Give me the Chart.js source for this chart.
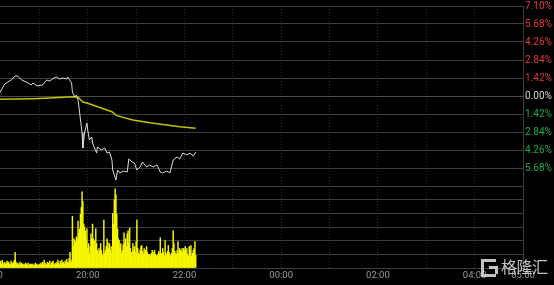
<!DOCTYPE html>
<html>
<head>
<meta charset="utf-8">
<script src="https://cdn.jsdelivr.net/npm/chart.js@4"></script>
<style>
  html, body { margin: 0; padding: 0; background: #000; width: 554px; height: 285px; overflow: hidden; }
  body { position: relative; }
  canvas { position: absolute; }
  #priceChart { left: -9px; top: 0; }
  #volumeChart { left: -9px; top: 180px; }
  .wm-g { position: absolute; left: 481px; top: 259px; width: 12px; height: 12px;
          border: 3px solid rgba(220,220,220,0.88); border-right: none; }
  .wm-g2 { position: absolute; left: 489px; top: 266px; width: 6px; height: 5px;
           border-top: 3px solid rgba(220,220,220,0.88); border-right: 3px solid rgba(220,220,220,0.88); }
  .wm-text { position: absolute; left: 501px; top: 256px; font-family: "Noto Sans CJK SC", sans-serif;
             font-size: 16px; letter-spacing: -0.5px; color: rgba(220,220,220,0.88); line-height: 20px; }
</style>
</head>
<body>
<canvas id="priceChart" width="563" height="190"></canvas>
<canvas id="volumeChart" width="563" height="105"></canvas>
<div class="wm-g"></div><div class="wm-g2"></div>
<div class="wm-text">格隆汇</div>
<script>
// =============================
// Data
// =============================
const sessionStart = "18:00";

// price change vs previous close, in %
const priceTimes = ["18:00","18:06","18:11","18:17","18:25","18:30","18:33","18:38","18:44","18:50",
  "18:52","18:57","19:04","19:09","19:13","19:16","19:21","19:25","19:29","19:34",
  "19:35","19:40","19:41","19:44","19:46","19:48","19:50","19:53","19:54","19:56",
  "19:59","20:00","20:02","20:05","20:06","20:11","20:12","20:17","20:21","20:24",
  "20:27","20:30","20:31","20:35","20:37","20:40","20:44","20:49","20:51","20:55",
  "20:58","21:01","21:05","21:08","21:13","21:17","21:21","21:26","21:30","21:33",
  "21:38","21:42","21:46","21:51","21:54","21:58","22:03","22:07","22:11","22:14"];
const pricePct = [-0.24,0.10,0.26,0.95,1.26,1.58,1.58,1.26,1.10,0.87,
  1.03,0.79,0.87,1.26,1.18,1.34,1.50,1.34,1.42,1.34,
  1.50,1.03,0.32,-0.08,0.08,-0.32,-1.34,-2.92,-4.10,-2.92,
  -2.13,-2.68,-3.47,-3.23,-3.71,-4.50,-4.02,-4.26,-4.10,-4.50,
  -4.42,-5.05,-5.84,-6.63,-5.84,-6.07,-5.92,-6.00,-4.97,-5.21,
  -5.29,-5.84,-5.60,-5.21,-5.60,-5.44,-5.60,-5.44,-6.00,-6.07,
  -5.92,-6.07,-5.05,-4.81,-4.97,-4.50,-4.65,-4.50,-4.73,-4.42];

// average price line, in %
const avgTimes = ["18:00","18:11","18:52","19:13","19:41","19:48","19:54","19:59","20:06","20:15",
  "20:30","20:36","20:56","21:17","21:38","21:54","22:14"];
const avgPct = [-0.28,-0.26,-0.21,-0.16,-0.06,-0.10,-0.47,-0.55,-0.71,-0.91,
  -1.24,-1.55,-1.89,-2.11,-2.29,-2.42,-2.55];

// volume per minute from 18:00
const volume = [4,5,3,6,4,5,3,4,6,5,4,
  5,7,4,8,5,3,6,4,5,7,
  5,6,4,3,7,5,4,6,8,16,
  6,4,5,3,4,6,3,5,4,3,
  4,3,5,4,3,5,2,4,3,4,
  3,4,2,3,5,3,4,3,2,4,
  3,5,4,6,3,8,5,4,3,6,
  5,4,7,3,5,6,7,4,3,5,
  4,6,8,5,3,7,4,8,5,6,
  4,7,5,9,6,5,10,16,8,6,
  53,22,30,28,26,32,30,48,35,40,
  55,62,78,68,45,42,38,30,40,20,
  25,15,22,35,30,45,30,28,22,40,
  25,18,15,20,17,25,18,14,12,49,
  15,18,22,30,26,20,25,18,22,15,
  56,45,70,81,75,55,40,30,28,20,
  25,15,18,24,36,25,30,22,35,38,
  25,41,20,16,12,25,18,22,16,27,
  49,20,15,14,18,22,23,17,14,20,
  15,18,22,16,14,13,14,12,15,18,
  13,16,18,14,12,13,14,17,15,31,
  15,14,20,16,12,28,15,13,17,23,
  16,14,12,15,20,38,25,17,15,14,
  18,27,15,20,18,17,20,16,20,18,
  22,15,20,14,12,22,18,23,12,15,
  18,20,27,13];

const yTicks = [7.10,5.68,4.26,2.84,1.42,0,-1.42,-2.84,-4.26,-5.68,-7.10];
const sessionMinutes = 660;   // 18:00 -> 05:00
const volMax = 84;

// =============================
// helpers
// =============================
function toMin(t) {
  const [h, m] = t.split(":").map(Number);
  const [sh, sm] = sessionStart.split(":").map(Number);
  let d = (h * 60 + m) - (sh * 60 + sm);
  if (d < 0) d += 1440;
  return d;
}
function minLabel(v) {
  const [sh] = sessionStart.split(":").map(Number);
  const h = (sh + Math.floor(v / 60)) % 24;
  return String(h).padStart(2, "0") + ":00";
}
// keep the plot edges fixed, labels may hang outside
function noPad(s) {
  s.paddingLeft = 0; s.paddingRight = 0; s.paddingTop = 0; s.paddingBottom = 0;
}

const GRID = "#3d3d3d";
const VGRID = "#2e2e2e";
const fontTick = { family: "Roboto", size: 10 };

// =============================
// 1. Price chart
// =============================
new Chart(document.getElementById("priceChart"), {
  type: "line",
  data: {
    datasets: [
      {
        data: priceTimes.map((t, i) => ({ x: toMin(t), y: pricePct[i] })),
        borderColor: "#dcdcdc",
        borderWidth: 1,
        pointRadius: 0,
        tension: 0
      },
      {
        data: avgTimes.map((t, i) => ({ x: toMin(t), y: avgPct[i] })),
        borderColor: "#c2c200",
        borderWidth: 1.5,
        pointRadius: 0,
        tension: 0
      }
    ]
  },
  options: {
    responsive: false,
    animation: false,
    events: [],
    layout: { autoPadding: false, padding: { top: 6, bottom: 4, left: 0, right: 0 } },
    plugins: { legend: { display: false }, tooltip: { enabled: false } },
    scales: {
      x: {
        type: "linear", min: 0, max: sessionMinutes,
        ticks: { display: false, stepSize: 60 },
        grid: { color: VGRID, drawTicks: false },
        border: { display: false, dash: [1, 2] },
        afterFit: s => { s.height = 0; noPad(s); }
      },
      y: {
        position: "right", min: -7.10, max: 7.10,
        afterBuildTicks: s => { s.ticks = yTicks.map(v => ({ value: v })); },
        afterFit: s => { s.width = 31; noPad(s); },
        ticks: {
          padding: 2,
          font: fontTick,
          color: ctx => {
            const v = ctx.tick ? ctx.tick.value : 0;
            return v > 0 ? "#e03a3a" : v < 0 ? "#22a84a" : "#d6d6d6";
          },
          callback: v => (v <= -7.1 ? "" : Math.abs(v).toFixed(2) + "%")
        },
        grid: {
          drawTicks: false,
          color: ctx => (ctx.tick && ctx.tick.value === 0 ? "#4a4a4a" : GRID)
        },
        border: { display: true, color: GRID }
      }
    }
  }
});

// =============================
// 2. Volume chart
// =============================
new Chart(document.getElementById("volumeChart"), {
  type: "bar",
  data: {
    datasets: [{
      data: volume.map((v, i) => ({ x: i, y: v })),
      backgroundColor: "#f6f600",
      borderWidth: 0,
      barPercentage: 1,
      categoryPercentage: 1
    }]
  },
  options: {
    responsive: false,
    animation: false,
    events: [],
    layout: { autoPadding: false, padding: { top: 6, bottom: 0, left: 0, right: 0 } },
    plugins: { legend: { display: false }, tooltip: { enabled: false } },
    scales: {
      x: {
        type: "linear", min: 0, max: sessionMinutes, offset: false,
        ticks: {
          stepSize: 60, autoSkip: false, maxRotation: 0, padding: 2,
          color: "#9c9c9c", font: { family: "Roboto", size: 9.5 },
          callback: v => (v % 120 === 0 || v === sessionMinutes ? minLabel(v) : "")
        },
        grid: { color: VGRID, drawTicks: false, offset: false },
        border: { display: false, dash: [1, 2] },
        afterFit: s => { s.height = 17; noPad(s); }
      },
      y: {
        position: "right", min: 0, max: volMax,
        ticks: { display: false, stepSize: volMax / 6 },
        afterFit: s => { s.width = 31; noPad(s); },
        grid: { drawTicks: false, color: GRID },
        border: { display: true, color: GRID }
      }
    }
  }
});
</script>
</body>
</html>
